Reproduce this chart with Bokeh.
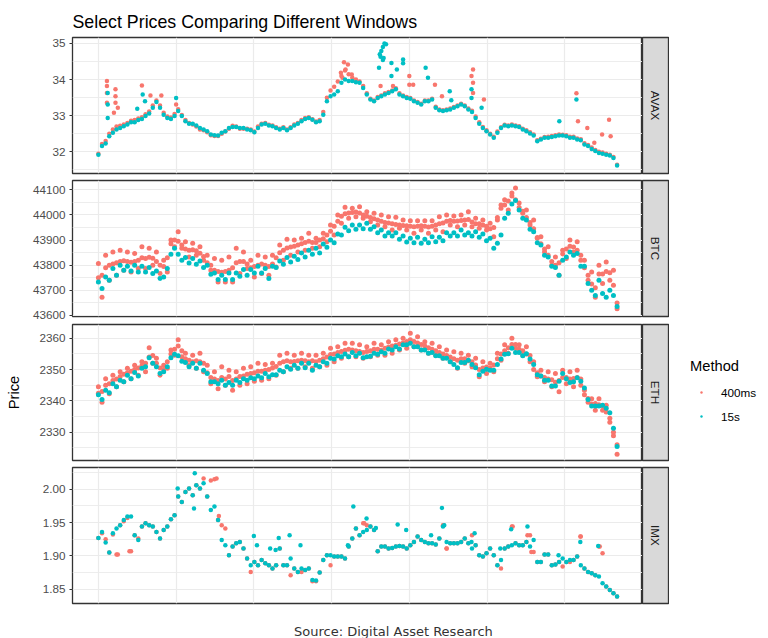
import math
from bokeh.plotting import figure
from bokeh.models import Range1d, FixedTicker, PrintfTickFormatter, Legend, LegendItem
from bokeh.layouts import column, row
from bokeh.embed import file_html
from bokeh.resources import INLINE
from bokeh.core.properties import value

RED = "#F8766D"
TEAL = "#00BFC4"
FONT = "Liberation Sans"

N = 144
hours = [round(i * 6.673 / (N - 1), 4) for i in range(N)]

avax_400ms = [31.95,32.22,32.30,32.50,32.62,32.70,32.72,32.76,32.80,32.86,
 32.88,32.92,32.96,33.04,33.12,33.28,33.42,33.28,33.08,32.98,
 32.95,33.05,33.18,33.02,32.88,32.80,32.76,32.70,32.62,32.60,
 32.54,32.46,32.44,32.44,32.50,32.56,32.64,32.72,32.70,32.64,
 32.64,32.64,32.62,32.56,32.70,32.78,32.80,32.75,32.73,32.68,
 32.64,32.68,32.62,32.68,32.76,32.80,32.88,32.94,32.96,32.90,
 32.84,32.88,33.10,33.50,33.70,33.80,33.95,34.10,34.25,34.15,
 34.05,34.00,33.95,33.82,33.62,33.47,33.42,33.52,33.56,33.62,
 33.66,33.70,33.76,33.62,33.56,33.52,33.49,33.42,33.38,33.33,
 33.42,33.42,33.47,33.25,33.17,33.15,33.17,33.20,33.24,33.28,
 33.33,33.28,33.20,33.14,32.98,32.82,32.69,32.60,32.50,32.42,
 32.56,32.68,32.75,32.73,32.76,32.73,32.71,32.64,32.60,32.54,
 32.48,32.32,32.36,32.41,32.42,32.44,32.46,32.48,32.47,32.46,
 32.42,32.42,32.37,32.35,32.24,32.19,32.12,32.05,32.00,31.98,
 31.95,31.92,31.86,31.64]
avax_15s = [31.92,32.16,32.23,32.43,32.53,32.62,32.66,32.71,32.76,32.82,
 32.82,32.88,32.91,32.99,33.06,33.22,33.38,33.22,33.03,32.94,
 32.91,32.99,33.13,32.99,32.85,32.78,32.78,32.73,32.66,32.62,
 32.57,32.48,32.46,32.45,32.53,32.57,32.66,32.69,32.69,32.66,
 32.66,32.62,32.60,32.54,32.66,32.76,32.78,32.73,32.71,32.66,
 32.62,32.66,32.60,32.66,32.73,32.78,32.85,32.91,32.94,32.89,
 32.82,32.85,33.03,33.40,33.54,33.59,33.68,33.91,34.00,33.96,
 33.96,33.93,33.91,33.77,33.59,33.45,33.40,33.49,33.54,33.59,
 33.63,33.68,33.73,33.59,33.54,33.49,33.47,33.40,33.36,33.31,
 33.40,33.40,33.45,33.22,33.15,33.13,33.15,33.17,33.22,33.26,
 33.31,33.26,33.17,33.10,32.94,32.78,32.66,32.57,32.48,32.39,
 32.53,32.66,32.73,32.71,32.73,32.71,32.69,32.62,32.57,32.51,
 32.45,32.29,32.34,32.39,32.39,32.41,32.43,32.45,32.45,32.43,
 32.39,32.39,32.34,32.32,32.20,32.16,32.08,32.02,31.97,31.95,
 31.92,31.90,31.83,31.62]
avax_400ms_spike_t = [0.11,0.11,0.11,0.11,0.22,0.22,0.22,0.25,0.20,0.56,0.67,0.81,1.00,
 3.16,3.18,3.21,3.12,3.14,3.26,3.63,3.79,4.00,4.00,4.05,4.33,4.42,4.82,4.80,4.82,4.82,
 4.96,6.15,6.17,6.29,6.57,6.59,6.48,6.38]
avax_400ms_spike_v = [33.96,33.82,33.63,33.36,33.73,33.54,33.36,33.22,33.08,33.84,33.56,33.56,33.31,
 34.48,34.28,34.42,34.19,34.05,34.14,33.82,33.82,34.10,33.86,33.86,33.86,33.54,34.28,34.10,33.91,33.63,
 33.45,33.62,32.85,32.66,32.89,32.43,32.48,32.25]
avax_15s_spike_t = [0.12,0.12,0.12,0.50,0.57,0.60,1.00,3.68,3.64,3.63,3.66,3.61,3.77,3.84,3.77,
 3.92,3.92,4.21,4.24,4.52,4.54,4.80,4.80,4.93,6.15,5.93,3.70,3.66,3.67,3.62]
avax_15s_spike_v = [33.63,33.31,32.94,33.19,33.59,33.40,33.49,35.00,34.79,34.63,34.54,34.33,34.46,34.28,34.10,
 34.56,34.45,34.33,34.05,33.68,33.43,33.73,33.49,33.22,33.45,32.85,34.98,34.90,34.60,34.70]

btc_400ms = [43807,43673,43840,43740,43853,43760,43860,43780,43853,43773,
 43847,43787,43873,43787,43867,43800,43853,43767,43820,43773,
 43900,43873,43933,43867,43893,43833,43887,43840,43873,43820,
 43840,43780,43827,43733,43820,43733,43833,43733,43867,43767,
 43853,43787,43820,43753,43840,43767,43833,43760,43840,43793,
 43880,43820,43903,43840,43900,43853,43907,43860,43927,43867,
 43907,43873,43927,43893,43960,43920,44000,43967,44031,43987,
 44027,43993,44033,43987,44013,43973,44007,43960,44000,43953,
 43993,43940,43991,43947,43980,43940,43977,43927,43977,43940,
 43977,43927,43977,43940,43993,43933,44000,43960,43996,43953,
 44000,43960,44013,43953,43987,43947,43980,43940,43967,43913,
 43980,44027,44060,44020,44087,44107,44047,44007,44020,43960,
 43980,43907,43913,43853,43873,43800,43833,43760,43860,43827,
 43900,43853,43893,43820,43820,43740,43773,43673,43800,43727,
 43813,43740,43780,43627]
btc_400ms_mid = [43750,43760,43790,43800,43805,43810,43815,43818,43815,43812,
 43815,43820,43830,43827,43832,43828,43815,43800,43795,43830,
 43885,43900,43895,43880,43865,43860,43862,43858,43848,43835,
 43810,43800,43780,43775,43772,43775,43780,43790,43810,43815,
 43815,43805,43790,43795,43800,43805,43800,43795,43805,43830,
 43850,43860,43868,43872,43875,43880,43885,43890,43895,43890,
 43890,43900,43905,43920,43935,43955,43975,43995,44005,44008,
 44010,44012,44008,44000,43995,43990,43985,43980,43975,43970,
 43968,43965,43962,43960,43958,43957,43955,43953,43955,43957,
 43955,43952,43955,43960,43965,43968,43975,43978,43975,43976,
 43978,43980,43982,43972,43965,43965,43960,43955,43945,43950,
 43990,44040,44040,44055,44075,44060,44030,44015,43990,43970,
 43945,43910,43885,43865,43840,43815,43800,43810,43845,43865,
 43875,43872,43860,43840,43790,43760,43725,43710,43765,43765,
 43775,43770,43720,43650]
btc_15s = [43733,43707,43753,43740,43787,43760,43800,43780,43796,43777,
 43800,43773,43796,43773,43791,43767,43777,43747,43753,43787,
 43844,43867,43844,43820,43831,43809,43827,43804,43817,43791,
 43800,43764,43769,43743,43760,43743,43769,43743,43769,43756,
 43783,43760,43783,43769,43796,43769,43787,43747,43796,43791,
 43817,43804,43831,43813,43836,43823,43849,43833,43860,43844,
 43867,43849,43884,43871,43900,43889,43924,43920,43951,43937,
 43960,43943,43960,43945,43967,43943,43953,43929,43940,43916,
 43929,43916,43929,43903,43916,43892,43907,43889,43911,43887,
 43903,43889,43913,43893,43911,43897,43929,43916,43929,43916,
 43940,43920,43929,43916,43933,43911,43924,43897,43907,43867,
 43887,43920,43987,44007,44044,44057,44020,43987,43980,43943,
 43933,43889,43880,43840,43833,43796,43791,43760,43820,43833,
 43853,43840,43847,43796,43796,43727,43700,43680,43740,43687,
 43673,43700,43680,43636]

eth_400ms = [2344.5,2339.6,2347.1,2342.3,2348.2,2344.5,2349.3,2346.1,2350.4,2347.1,
 2351.4,2348.2,2352.5,2349.3,2357.0,2352.0,2353.6,2348.2,2351.4,2350.4,
 2356.3,2354.6,2359.5,2354.1,2355.2,2351.4,2354.6,2350.4,2355.2,2349.3,
 2351.4,2345.5,2349.3,2343.9,2350.9,2345.0,2349.8,2343.4,2349.3,2345.0,
 2350.4,2345.5,2350.9,2346.3,2352.0,2346.6,2351.6,2347.1,2352.0,2348.2,
 2354.6,2349.3,2355.2,2350.4,2354.6,2350.4,2355.2,2350.9,2354.6,2350.4,
 2354.6,2350.9,2355.2,2351.4,2356.8,2352.5,2357.3,2353.6,2358.4,2354.1,
 2358.4,2354.1,2357.9,2353.6,2357.3,2354.1,2358.4,2354.6,2357.9,2354.6,
 2358.9,2355.2,2359.5,2356.3,2360.0,2356.8,2361.6,2357.3,2360.5,2356.3,
 2358.9,2355.2,2358.4,2354.6,2357.3,2353.6,2356.3,2352.5,2355.7,2350.4,
 2355.2,2352.0,2354.6,2350.9,2353.6,2347.7,2352.5,2348.8,2352.0,2349.3,
 2355.2,2353.0,2357.9,2355.2,2360.0,2356.8,2357.9,2354.6,2357.3,2352.5,
 2352.5,2347.7,2349.8,2346.1,2349.3,2344.5,2348.8,2342.9,2349.8,2345.5,
 2349.3,2344.5,2349.8,2345.0,2343.4,2339.6,2340.7,2337.0,2340.7,2337.0,
 2338.6,2333.2,2328.9,2323.0]
eth_400ms_mid = [2342.5,2343.0,2345.0,2345.5,2346.5,2347.0,2347.8,2348.5,2349.0,2349.5,
 2350.0,2350.5,2351.2,2352.0,2354.0,2354.5,2352.0,2350.5,2350.0,2352.5,
 2355.0,2356.5,2357.5,2356.0,2353.5,2353.0,2352.5,2352.8,2352.5,2352.0,
 2349.0,2347.5,2347.0,2346.5,2347.5,2347.0,2347.8,2346.5,2347.0,2347.8,
 2348.0,2348.5,2348.8,2349.0,2349.5,2349.5,2349.8,2350.0,2350.5,2351.0,
 2352.0,2352.5,2352.8,2352.5,2352.6,2352.8,2353.0,2352.8,2352.5,2352.8,
 2352.5,2353.0,2353.5,2354.0,2354.8,2355.0,2355.5,2355.8,2356.2,2356.5,
 2356.3,2356.0,2355.8,2355.5,2355.8,2356.0,2356.5,2356.5,2356.2,2356.8,
 2357.2,2357.5,2357.8,2358.2,2358.5,2359.0,2359.5,2359.0,2358.5,2358.0,
 2357.5,2357.0,2356.5,2356.0,2355.5,2355.0,2354.5,2354.0,2353.5,2353.0,
 2353.5,2353.5,2352.8,2352.5,2351.5,2350.0,2350.5,2350.8,2350.5,2351.5,
 2353.5,2355.0,2356.0,2357.0,2358.0,2358.0,2356.5,2356.0,2355.0,2354.5,
 2350.0,2349.0,2348.0,2347.5,2347.0,2346.8,2346.0,2346.5,2347.5,2347.5,
 2347.0,2347.2,2347.5,2347.0,2342.0,2340.8,2339.0,2339.2,2338.8,2338.5,
 2336.5,2334.5,2330.0,2326.0]
eth_15s = [2342.0,2340.5,2343.4,2342.6,2345.5,2344.5,2346.6,2346.1,2348.2,2347.1,
 2349.1,2348.0,2350.4,2350.9,2353.8,2352.0,2350.9,2348.8,2349.3,2350.9,
 2353.8,2354.9,2354.4,2352.7,2352.3,2350.9,2352.0,2350.4,2352.0,2349.8,
 2348.8,2346.1,2346.1,2345.5,2346.6,2345.0,2345.9,2345.0,2346.6,2345.9,
 2347.1,2346.6,2347.4,2347.1,2348.0,2347.4,2348.8,2347.7,2348.4,2348.4,
 2349.8,2349.3,2350.9,2350.1,2351.4,2350.4,2352.0,2350.6,2352.0,2349.8,
 2351.4,2350.9,2352.5,2352.0,2353.6,2353.4,2354.4,2354.1,2355.0,2354.1,
 2355.5,2354.4,2355.2,2353.8,2354.1,2354.3,2355.2,2354.9,2355.7,2355.2,
 2356.6,2356.3,2357.3,2356.6,2357.9,2357.9,2358.4,2357.3,2357.3,2356.3,
 2356.3,2355.2,2355.5,2354.4,2354.4,2353.6,2353.6,2352.5,2351.6,2350.6,
 2352.3,2352.3,2353.0,2351.6,2350.6,2348.4,2349.5,2350.1,2349.8,2349.8,
 2351.6,2353.4,2354.9,2355.1,2356.8,2355.5,2355.5,2354.4,2355.1,2353.4,
 2351.6,2348.4,2348.0,2346.6,2346.6,2344.8,2344.8,2346.3,2348.8,2347.1,
 2345.9,2346.1,2347.4,2346.3,2344.1,2340.5,2338.4,2338.4,2338.4,2338.6,
 2337.7,2336.2,2331.3,2325.5]

imx_400ms = [1.927,1.934,1.925,1.905,1.932,1.902,1.946,1.952,1.957,1.907,
 1.931,1.926,1.944,1.949,1.946,1.944,1.936,1.926,1.939,1.944,
 1.955,1.961,1.989,1.981,1.996,2.001,1.991,2.006,2.001,2.016,
 1.989,2.013,2.015,1.954,1.946,1.941,1.901,1.914,1.919,1.921,
 1.911,1.896,1.876,1.891,1.886,1.894,1.889,1.886,1.881,1.886,
 1.911,1.886,1.886,1.871,1.881,1.876,1.876,1.879,1.881,1.862,
 1.862,1.875,1.894,1.901,1.886,1.899,1.899,1.899,1.896,1.914,
 1.926,1.941,1.931,1.949,1.946,1.944,1.939,1.907,1.914,1.914,
 1.911,1.912,1.914,1.915,1.914,1.911,1.916,1.921,1.929,1.924,
 1.921,1.919,1.919,1.917,1.926,1.946,1.911,1.919,1.919,1.919,
 1.921,1.926,1.919,1.931,1.916,1.901,1.899,1.904,1.911,1.901,
 1.886,1.881,1.911,1.914,1.944,1.919,1.916,1.916,1.921,1.931,
 1.906,1.891,1.891,1.902,1.902,1.886,1.887,1.891,1.884,1.891,
 1.891,1.894,1.899,1.929,1.881,1.876,1.874,1.871,1.914,1.904,
 1.854,1.849,1.844,1.839]
imx_15s = [1.927,1.936,1.920,1.905,1.934,1.941,1.946,1.954,1.959,1.959,
 1.931,1.924,1.944,1.949,1.946,1.944,1.936,1.926,1.939,1.944,
 1.955,1.961,1.989,1.981,1.996,2.001,1.991,2.006,2.001,2.009,
 1.989,1.969,1.974,1.954,1.924,1.916,1.901,1.914,1.919,1.921,
 1.911,1.896,1.886,1.891,1.886,1.894,1.889,1.886,1.881,1.886,
 1.911,1.886,1.886,1.896,1.881,1.876,1.881,1.879,1.881,1.864,
 1.863,1.875,1.894,1.901,1.901,1.899,1.899,1.899,1.896,1.914,
 1.926,1.941,1.931,1.936,1.939,1.944,1.939,1.907,1.914,1.914,
 1.911,1.912,1.914,1.915,1.914,1.911,1.916,1.921,1.929,1.924,
 1.921,1.919,1.919,1.917,1.926,1.944,1.921,1.919,1.919,1.919,
 1.921,1.926,1.919,1.911,1.916,1.901,1.899,1.904,1.911,1.901,
 1.886,1.894,1.911,1.914,1.916,1.919,1.916,1.916,1.921,1.914,
 1.924,1.891,1.891,1.902,1.902,1.886,1.887,1.891,1.896,1.891,
 1.894,1.894,1.899,1.886,1.881,1.876,1.874,1.871,1.869,1.859,
 1.854,1.849,1.844,1.839]
imx_400ms_spike_t = [0.25,0.40,1.52,1.55,3.42,4.44,4.48,5.33,5.52,5.57,6.20,6.45]
imx_400ms_spike_v = [1.902,1.907,2.016,1.960,1.949,1.946,1.911,1.944,1.931,1.906,1.929,1.914]
imx_15s_spike_t = [3.28,3.45,4.42,4.45,3.85,3.96,5.52,5.31,6.20,6.43,2.00,2.32,2.46,2.60,2.04,
 2.21,2.28,4.84,4.28,3.57,3.21,1.24,1.02,1.23,4.80,5.17,5.92]
imx_15s_spike_v = [1.974,1.956,1.972,1.946,1.947,1.939,1.944,1.940,1.921,1.915,1.930,1.927,1.931,1.916,1.916,
 1.911,1.909,1.934,1.931,1.942,1.916,2.024,2.001,1.971,1.921,1.911,1.901]

panels = [
    dict(name="AVAX", r=[avax_400ms], t=avax_15s, rs=(avax_400ms_spike_t, avax_400ms_spike_v),
         ts=(avax_15s_spike_t, avax_15s_spike_v), lo=31.40, hi=35.166, size=4.5,
         ticks=[32, 33, 34, 35], minor=[31.5, 32.5, 33.5, 34.5], fmt="%d", top=37),
    dict(name="BTC", r=[btc_400ms, btc_400ms_mid], t=btc_15s, rs=None, ts=None, lo=43596, hi=44137,
         size=5, ticks=[43600, 43700, 43800, 43900, 44000, 44100],
         minor=[43650, 43750, 43850, 43950, 44050], fmt="%d", top=3),
    dict(name="ETH", r=[eth_400ms, eth_400ms_mid], t=eth_15s, rs=None, ts=None, lo=2321.0, hi=2364.4,
         size=5, ticks=[2330, 2340, 2350, 2360], minor=[2325, 2335, 2345, 2355], fmt="%d", top=4),
    dict(name="IMX", r=[imx_400ms], t=imx_15s, rs=(imx_400ms_spike_t, imx_400ms_spike_v),
         ts=(imx_15s_spike_t, imx_15s_spike_v), lo=1.8286, hi=2.0326, size=4.5,
         ticks=[1.85, 1.90, 1.95, 2.00], minor=[1.875, 1.925, 1.975, 2.025], fmt="%.2f", top=3),
]

rows = []
for k, d in enumerate(panels):
    SIZE = d["size"]
    p = figure(frame_width=570, frame_height=136, x_range=Range1d(-0.333, 7.0),
               y_range=Range1d(d["lo"], d["hi"]), output_backend="svg", toolbar_location=None,
               min_border_left=72, min_border_right=0, min_border_top=d["top"], min_border_bottom=4,
               background_fill_color="white", border_fill_color="white")
    p.outline_line_color = "#333333"
    p.outline_line_width = 1.3
    p.xaxis.visible = False
    p.xgrid.ticker = FixedTicker(ticks=[0, 1, 2, 3, 4, 5, 6])
    p.xgrid.grid_line_color = "#EBEBEB"
    p.xgrid.grid_line_width = 1.2
    p.yaxis.ticker = FixedTicker(ticks=d["ticks"], minor_ticks=d["minor"])
    p.yaxis.formatter = PrintfTickFormatter(format=d["fmt"])
    p.ygrid.grid_line_color = "#EBEBEB"
    p.ygrid.grid_line_width = 1.2
    p.ygrid.minor_grid_line_color = "#EBEBEB"
    p.ygrid.minor_grid_line_width = 0.9
    ax = p.yaxis[0]
    ax.axis_line_color = None
    ax.major_tick_line_color = "#333333"
    ax.major_tick_in = 0
    ax.major_tick_out = 3
    ax.minor_tick_line_color = None
    ax.major_label_text_font = FONT
    ax.major_label_text_font_size = "11.7px"
    ax.major_label_text_color = "#4D4D4D"
    ax.major_label_standoff = 3
    if d["name"] == "ETH":
        ax.axis_label = "Price"
        ax.axis_label_text_font = FONT
        ax.axis_label_text_font_size = "14.7px"
        ax.axis_label_text_font_style = "normal"
        ax.axis_label_text_color = "#000000"
        ax.axis_label_standoff = 14
    if k == 0:
        p.title.text = "Select Prices Comparing Different Windows"
        p.title.text_font = FONT
        p.title.text_font_size = "17.8px"
        p.title.text_font_style = "normal"
        p.title.text_color = "#000000"
        p.title.align = "left"
        p.title.standoff = 11

    for ser in d["r"]:
        p.scatter(hours, ser, size=SIZE, color=RED, line_width=0)
    if d["rs"]:
        p.scatter(d["rs"][0], d["rs"][1], size=SIZE, color=RED, line_width=0)
    p.scatter(hours, d["t"], size=SIZE, color=TEAL, line_width=0)
    if d["ts"]:
        p.scatter(d["ts"][0], d["ts"][1], size=SIZE, color=TEAL, line_width=0)

    s = figure(frame_width=26, frame_height=136, x_range=Range1d(0, 1), y_range=Range1d(0, 1),
               output_backend="svg", toolbar_location=None, x_axis_location=None, y_axis_location=None,
               min_border_left=0, min_border_right=1, min_border_top=d["top"], min_border_bottom=4,
               background_fill_color="#D9D9D9", border_fill_color="white")
    s.outline_line_color = "#333333"
    s.outline_line_width = 1.3
    s.grid.visible = False
    s.text(x=[0.5], y=[0.5], text=[d["name"]], angle=-math.pi / 2, text_align="center",
           text_baseline="middle", text_font_size="11.7px", text_color="#1A1A1A",
           text_font=value(FONT))
    kids = [p, s]
    if d["name"] == "ETH":
        lf = figure(frame_width=92, frame_height=136, x_range=Range1d(0, 1), y_range=Range1d(0, 1),
                    output_backend="svg", toolbar_location=None, x_axis_location=None,
                    y_axis_location=None, min_border_left=0, min_border_right=0,
                    min_border_top=d["top"], min_border_bottom=4, outline_line_color=None)
        lf.grid.visible = False
        r1 = lf.scatter(x=[float("nan")], y=[float("nan")], size=3, color=RED, line_width=0)
        r2 = lf.scatter(x=[float("nan")], y=[float("nan")], size=3, color=TEAL, line_width=0)
        leg = Legend(items=[LegendItem(label="400ms", renderers=[r1]),
                            LegendItem(label="15s", renderers=[r2])],
                     title="Method", location="center_left", orientation="vertical")
        leg.title_text_font = FONT
        leg.title_text_font_size = "14.7px"
        leg.title_text_font_style = "normal"
        leg.title_text_color = "#000000"
        leg.title_standoff = 8
        leg.label_text_font = FONT
        leg.label_text_font_size = "11.7px"
        leg.label_text_color = "#000000"
        leg.glyph_width = 22
        leg.glyph_height = 6
        leg.label_height = 20
        leg.label_standoff = 9
        leg.spacing = 4
        leg.margin = 21
        leg.padding = 10
        leg.border_line_color = None
        leg.background_fill_color = None
        lf.add_layout(leg, "center")
        kids.append(lf)
    rows.append(row(*kids))

cap = figure(width=760, height=31, x_range=Range1d(0, 1), y_range=Range1d(0, 1),
             output_backend="svg", toolbar_location=None, x_axis_location=None, y_axis_location=None,
             min_border=0, outline_line_color=None)
cap.grid.visible = False
cap.text(x=[0.517], y=[0.23], text=["Source: Digital Asset Research"], text_align="center",
         text_baseline="alphabetic", text_font_size="13px", text_color="#333333",
         text_font=value("DejaVu Sans"))

layout = column(*rows, cap)
open("out.html", "w").write(file_html(layout, INLINE))
